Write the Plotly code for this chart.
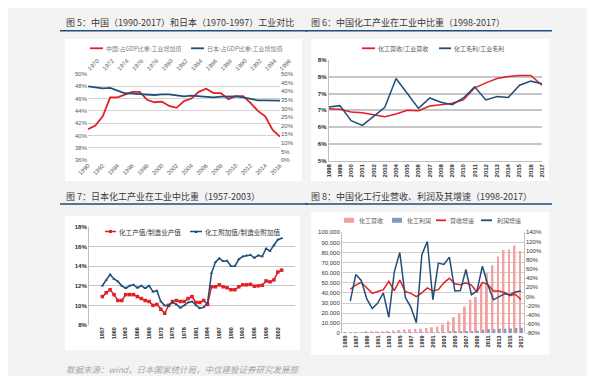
import plotly.graph_objects as go

W, H = 595, 376
def X(px): return px / W
def Y(py): return 1 - py / H

# ---------------- Data ----------------
# Fig 5
china_years = list(range(1990, 2017))
china_ind = [41.0, 41.6, 43.1, 46.2, 46.2, 46.7, 47.1, 47.1, 45.8, 45.4, 45.5, 44.8, 44.5, 45.6,
             46.0, 47.1, 47.6, 46.9, 46.9, 45.9, 46.4, 46.4, 45.3, 44.0, 43.1, 40.9, 39.8]
japan_years = list(range(1970, 1997))
japan_ind = [42.8, 42.2, 41.7, 41.9, 40.5, 38.8, 38.6, 38.2, 38.2, 37.8, 38.2, 38.2, 37.6, 37.0,
             37.4, 37.2, 36.8, 36.4, 36.8, 37.0, 37.0, 36.4, 35.7, 34.7, 34.7, 34.7, 34.5]

# Fig 6
years6 = [str(y) for y in range(1998, 2018)]
rev_ratio = [6.55, 6.53, 6.45, 6.43, 6.37, 6.31, 6.39, 6.50, 6.49, 6.63, 6.67, 6.71, 6.81, 7.17,
             7.32, 7.45, 7.51, 7.54, 7.54, 7.25]
gp_ratio = [6.60, 6.64, 6.19, 6.05, 6.32, 6.59, 7.45, 6.99, 6.56, 6.87, 6.74, 6.67, 6.87, 7.20,
            6.81, 6.91, 6.88, 7.25, 7.37, 7.29]
y6_ticks = [5.0, 5.5, 6.0, 6.5, 7.0, 7.5, 8.0]
y6_labels = ["5%", "6%", "6%", "7%", "7%", "8%", "8%"]

# Fig 7
years7 = [str(y) for y in range(1957, 2004)]
output_ratio = [10.9, 11.3, 11.6, 11.1, 10.5, 10.5, 11.1, 11.1, 11.1, 10.9, 10.7, 10.5, 10.4, 10.0,
                10.1, 9.6, 9.2, 10.0, 10.4, 10.5, 10.4, 10.4, 10.7, 10.9, 10.3, 10.3, 10.5, 10.1,
                11.9, 11.9, 12.1, 11.9, 11.8, 11.6, 11.6, 11.9, 12.1, 12.1, 12.15, 11.95, 12.0,
                12.05, 12.5, 12.4, 12.6, 13.4, 13.6]
va_ratio = [12.0, 12.6, 13.15, 12.7, 12.45, 12.0, 11.75, 12.0, 12.1, 11.8, 12.0, 11.75, 12.0, 11.4,
            11.5, 10.4, 10.0, 10.0, 10.3, 10.1, 9.75, 10.0, 10.3, 10.4, 10.0, 9.7, 9.8, 10.3,
            13.3, 14.4, 14.8, 14.5, 14.55, 14.0, 14.0, 14.7, 15.0, 15.1, 15.15, 14.85, 15.1,
            15.0, 15.8, 15.55, 16.15, 16.7, 16.85]
x7_ticks = [str(y) for y in range(1957, 2004, 3)]

# Fig 8
years8 = [str(y) for y in range(1985, 2018)]
revenue = [300, 500, 700, 900, 1100, 1200, 1400, 1700, 2200, 2700, 3300, 3700, 4000, 4200, 4500,
           5300, 6000, 6800, 8600, 12000, 16000, 20000, 26500, 33200, 36000, 49000, 59500, 67500,
           76000, 82500, 83000, 87000, 81500]
profit = [80, 90, 110, 150, 140, 100, 110, 150, 120, 200, 300, 250, 200, 130, 240, 420, 400, 500,
          700, 1000, 1300, 1500, 2200, 2000, 2500, 3600, 4300, 4100, 4500, 4600, 4800, 5200, 5400]
rev_growth = [None, 16, 25, 31, 19, 7, 11, 15, 33, 13, 36, 11, 7, 0, 8, 19, 12, 15, 30, 40, 28, 26,
              30, 25, 10, 31, 26, 12, 12, 9, 2, 5, -7]
profit_growth = [None, -10, 48, 35, -5, -26, -14, 8, -45, 54, 96, -2, -23, -57, 91, 120, -7, 73,
                 70, 86, 12, 13, 59, 4, 12, 66, 25, -7, 0, 6, 4, 10, 12]
x8_ticks = [str(y) for y in range(1985, 2018, 2)]
y8r_ticks = list(range(-80, 141, 20))
y8r_labels = [f"{v}%" for v in y8r_ticks]

# ---------------- Styles ----------------
RED = "#E31E24"
BLUE = "#1F4E79"
PINK = "#F3A2A2"
BLUEGRAY = "#7F9DC0"
TICKF = "Liberation Sans, Arial, sans-serif"
CJK = "Noto Sans CJK SC, sans-serif"

fig = go.Figure()

# Fig 5 traces
fig.add_trace(go.Scatter(x=china_years, y=china_ind, mode="lines", line=dict(color=RED, width=1.8),
                         xaxis="x", yaxis="y", showlegend=False))
fig.add_trace(go.Scatter(x=japan_years, y=japan_ind, mode="lines", line=dict(color=BLUE, width=1.8),
                         xaxis="x2", yaxis="y2", showlegend=False))
# Fig 6 traces
fig.add_trace(go.Scatter(x=years6, y=rev_ratio, mode="lines", line=dict(color=RED, width=1.5),
                         xaxis="x3", yaxis="y3", showlegend=False))
fig.add_trace(go.Scatter(x=years6, y=gp_ratio, mode="lines", line=dict(color=BLUE, width=1.5),
                         xaxis="x3", yaxis="y3", showlegend=False))
# Fig 7 traces
fig.add_trace(go.Scatter(x=years7, y=output_ratio, mode="lines+markers",
                         line=dict(color=RED, width=1.5), marker=dict(symbol="square", size=3.5, color=RED),
                         xaxis="x4", yaxis="y4", showlegend=False))
fig.add_trace(go.Scatter(x=years7, y=va_ratio, mode="lines+markers",
                         line=dict(color=BLUE, width=1.5), marker=dict(symbol="triangle-up", size=3, color=BLUE),
                         xaxis="x4", yaxis="y4", showlegend=False))
# Fig 8 traces
fig.add_trace(go.Bar(x=years8, y=revenue, marker=dict(color=PINK, line=dict(width=0)),
                     xaxis="x5", yaxis="y5", showlegend=False))
fig.add_trace(go.Bar(x=years8, y=profit, marker=dict(color=BLUEGRAY, line=dict(width=0)),
                     xaxis="x5", yaxis="y5", showlegend=False))
fig.add_trace(go.Scatter(x=years8, y=rev_growth, mode="lines", line=dict(color=RED, width=1.5),
                         xaxis="x5", yaxis="y6", showlegend=False))
fig.add_trace(go.Scatter(x=years8, y=profit_growth, mode="lines", line=dict(color=BLUE, width=1.5),
                         xaxis="x5", yaxis="y6", showlegend=False))

shapes = []
annotations = []

def box(x0, y0, x1, y1):
    shapes.append(dict(type="rect", xref="paper", yref="paper", x0=X(x0), x1=X(x1), y0=Y(y1), y1=Y(y0),
                       fillcolor="white", line=dict(width=0), layer="below"))

def hline(x0, x1, y, color, width):
    shapes.append(dict(type="line", xref="paper", yref="paper", x0=X(x0), x1=X(x1), y0=Y(y), y1=Y(y),
                       line=dict(color=color, width=width)))

def text(x, y, s, size, color="#333333", family=CJK, style="normal", weight="normal"):
    annotations.append(dict(x=X(x), y=Y(y), xref="paper", yref="paper", text=s, showarrow=False,
                            xanchor="left", yanchor="middle",
                            font=dict(size=size, color=color, family=family, style=style, weight=weight)))

def square(cx, cy, s, color):
    shapes.append(dict(type="rect", xref="paper", yref="paper", x0=X(cx - s / 2), x1=X(cx + s / 2),
                       y0=Y(cy + s / 2), y1=Y(cy - s / 2), fillcolor=color, line=dict(width=0)))

def triangle(cx, cy, s, color):
    p = f"M {X(cx - s/2)},{Y(cy + s/2)} L {X(cx + s/2)},{Y(cy + s/2)} L {X(cx)},{Y(cy - s/2)} Z"
    shapes.append(dict(type="path", xref="paper", yref="paper", path=p, fillcolor=color, line=dict(width=0)))

# white panels
box(57, 31, 294, 173)
box(303, 31, 541, 173)
box(57, 208, 292, 342)
box(303, 204, 541, 347)

# titles and underline
hline(52, 300, 22.8, "#1F4E79", 1.5)
hline(297, 544, 22.8, "#1F4E79", 1.5)
hline(52, 300, 196, "#1F4E79", 1.5)
hline(297, 544, 196, "#1F4E79", 1.5)
text(56, 14.5, "图 5：中国（1990-2017）和日本（1970-1997）工业对比", 9, "#3a3a3a")
text(301, 14.5, "图 6：中国化工产业在工业中比重（1998-2017）", 9, "#3a3a3a")
text(56, 188.5, "图 7：日本化工产业在工业中比重（1957-2003）", 9, "#3a3a3a")
text(301, 188.5, "图 8：中国化工行业营收、利润及其增速（1998-2017）", 9, "#3a3a3a")
text(56, 361, "数据来源：wind，日本国家统计局，中信建投证券研究发展部", 8.5, "#a6a6a6", style="italic")

# legends fig 5
hline(82, 95, 40.3, RED, 1.8)
text(96, 40.3, "中国:占GDP比重:工业增加值", 6, "#7f7f7f")
hline(183, 196, 40.3, BLUE, 1.8)
text(197, 40.3, "日本:占GDP比重:工业增加值", 6, "#7f7f7f")
# legends fig 6
hline(354, 367, 40.3, RED, 1.8)
text(367.5, 40.3, "化工营收/工业营收", 6, "#595959")
hline(431, 443, 40.3, BLUE, 1.8)
text(443.5, 40.3, "化工毛利/工业毛利", 6, "#595959")
# legends fig 7
hline(97, 108, 223.5, RED, 1.5)
square(102.5, 223.5, 3, RED)
text(108.5, 223.5, "化工产值/制造业产值", 6.6, "#333333")
hline(182, 194, 223.5, BLUE, 1.5)
triangle(188, 223.5, 3, BLUE)
text(194.5, 223.5, "化工附加值/制造业附加值", 6.6, "#333333")
# legends fig 8
square(341, 212.3, 5, PINK)
shapes[-1].update(x0=X(336), x1=X(346))
text(349, 212.3, "化工营收", 6, "#595959")
square(389, 212.3, 5, BLUEGRAY)
shapes[-1].update(x0=X(384), x1=X(394))
text(396.5, 212.3, "化工利润", 6, "#595959")
hline(428, 438, 212.3, RED, 1.8)
text(440, 212.3, "营收增速", 6, "#595959")
hline(473, 484, 212.3, BLUE, 1.8)
text(486.5, 212.3, "利润增速", 6, "#595959")

tf = lambda size=6, color="#595959", weight="normal": dict(family=TICKF, size=size, color=color, weight=weight)

fig.update_layout(
    width=W, height=H, autosize=False,
    margin=dict(l=0, r=0, t=0, b=0, pad=0),
    paper_bgcolor="#f3f3f3", plot_bgcolor="rgba(0,0,0,0)",
    barmode="group", bargap=0.3, bargroupgap=0.0,
    showlegend=False,
    shapes=shapes, annotations=annotations,
    # Fig 5
    xaxis=dict(domain=[X(80), X(272)], anchor="y", range=[1990, 2016], tickmode="linear", tick0=1990,
               dtick=2, tickangle=-45, tickfont=tf(6), showgrid=False, zeroline=False, showline=False,
               ticks="", automargin=False),
    xaxis2=dict(overlaying="x", side="top", anchor="y", range=[1970, 1996], tickmode="linear", tick0=1970,
                dtick=2, tickangle=-45, tickfont=tf(6), showgrid=False, zeroline=False, showline=False,
                ticks="", automargin=False),
    yaxis=dict(domain=[Y(152), Y(66)], anchor="x", range=[36, 50], tickmode="linear", tick0=36, dtick=2,
               ticksuffix="%", tickfont=tf(6), showgrid=True, gridcolor="#d2d2d2", gridwidth=1.3,
               zeroline=False, showline=False, automargin=False),
    yaxis2=dict(overlaying="y", side="right", anchor="x", range=[0, 50], tickmode="linear", tick0=0,
                dtick=5, ticksuffix="%", tickfont=tf(6), showgrid=False, zeroline=False,
                showline=False, automargin=False),
    # Fig 6
    xaxis3=dict(domain=[X(320.7), X(534)], anchor="y3", type="category", tickangle=-90,
                tickfont=tf(6, "#262626", "bold"), showgrid=False, zeroline=False, showline=True,
                linecolor="#bfbfbf", linewidth=1, ticks="", automargin=False),
    yaxis3=dict(domain=[Y(152.7), Y(52)], anchor="x3", range=[5, 8], tickmode="array",
                tickvals=y6_ticks, ticktext=y6_labels, tickfont=tf(6, "#262626", "bold"),
                showgrid=True, gridcolor="#c6c6c6", gridwidth=1.6, zeroline=False, showline=True,
                linecolor="#bfbfbf", automargin=False),
    # Fig 7
    xaxis4=dict(domain=[X(81), X(287)], anchor="y4", type="category", tickmode="array",
                tickvals=x7_ticks, ticktext=x7_ticks, tickangle=-90,
                tickfont=tf(5.5, "#262626", "bold"), showgrid=False, zeroline=False, showline=False,
                ticks="", automargin=False),
    yaxis4=dict(domain=[Y(317), Y(219)], anchor="x4", range=[8, 18], tickmode="linear", tick0=8, dtick=2,
                ticksuffix="%", tickfont=tf(6, "#262626", "bold"), showgrid=True, gridcolor="#c6c6c6",
                gridwidth=1, zeroline=False, showline=True, linecolor="#bfbfbf", automargin=False),
    # Fig 8
    xaxis5=dict(domain=[X(334), X(515.7)], anchor="y5", type="category", tickmode="array",
                tickvals=x8_ticks, ticktext=x8_ticks, tickangle=-90,
                tickfont=tf(5.5, "#262626", "bold"), showgrid=False, zeroline=False, showline=False,
                ticks="", automargin=False),
    yaxis5=dict(domain=[Y(325.3), Y(224.3)], anchor="x5", range=[0, 100000], tickmode="linear", tick0=0,
                dtick=10000, tickformat=",", tickfont=tf(6, "#333333"), showgrid=True,
                gridcolor="#cfcfcf", gridwidth=1, zeroline=False, showline=True, linecolor="#bfbfbf",
                automargin=False),
    yaxis6=dict(overlaying="y5", side="right", anchor="x5", range=[-80, 140], tickmode="array",
                tickvals=y8r_ticks, ticktext=y8r_labels, tickfont=tf(6, "#333333"), showgrid=False,
                zeroline=False, showline=True, linecolor="#bfbfbf", automargin=False),
)

fig.write_html("out.html")
